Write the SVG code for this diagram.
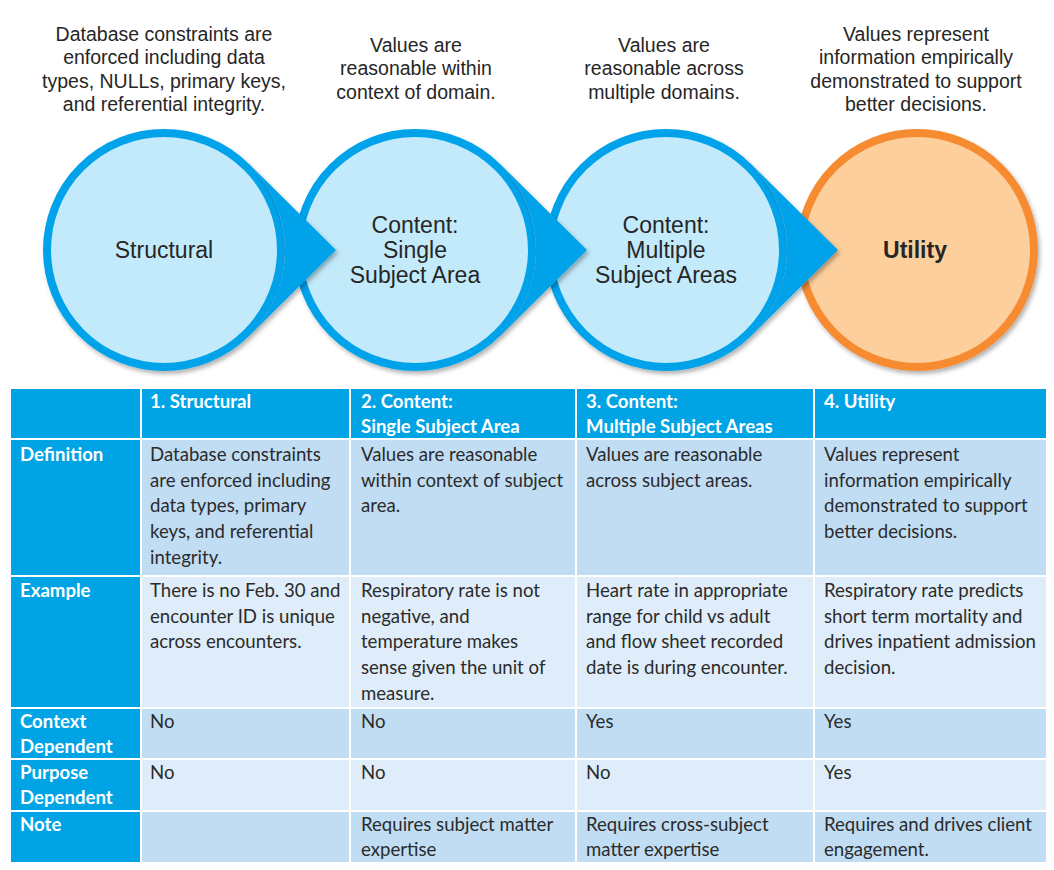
<svg xmlns="http://www.w3.org/2000/svg" width="1054" height="870" viewBox="0 0 1054 870">
<style>
.cap{font-family:"Liberation Sans",Arial,sans-serif;font-size:19.5px;fill:#262626;text-anchor:middle}
.ctext{font-family:"Liberation Sans",Arial,sans-serif;font-size:23px;fill:#262626;text-anchor:middle}
.cb{stroke:#00a2ea;stroke-width:8;fill:#c2eafb}
.co{stroke:#f68b30;stroke-width:8;fill:#fdcf9d}
.arr{fill:#00a2ea}
.hd{fill:#00a4e5}
.r1{fill:#c0ddf4}
.r2{fill:#deedf9}
.th{font-family:Lato,"Liberation Sans",sans-serif;font-size:18.6px;font-weight:bold;fill:#ffffff}
.td{font-family:Lato,"Liberation Sans",sans-serif;font-size:18.6px;fill:#2b2b2b}
</style>
<defs>
<filter id="sh" x="-20%" y="-20%" width="140%" height="140%">
<feDropShadow dx="2" dy="3" stdDeviation="2" flood-color="#000" flood-opacity="0.3"/>
</filter>
</defs>
<rect width="1054" height="870" fill="#ffffff"/>

<g id="captions">
<text class="cap" x="164" y="41">Database constraints are</text>
<text class="cap" x="164" y="64">enforced including data</text>
<text class="cap" x="164" y="87.5">types, NULLs, primary keys,</text>
<text class="cap" x="164" y="110.5">and referential integrity.</text>
<text class="cap" x="416" y="52">Values are</text>
<text class="cap" x="416" y="75">reasonable within</text>
<text class="cap" x="416" y="98.5">context of domain.</text>
<text class="cap" x="664" y="52">Values are</text>
<text class="cap" x="664" y="75">reasonable across</text>
<text class="cap" x="664" y="98.5">multiple domains.</text>
<text class="cap" x="916" y="41">Values represent</text>
<text class="cap" x="916" y="64">information empirically</text>
<text class="cap" x="916" y="87.5">demonstrated to support</text>
<text class="cap" x="916" y="110.5">better decisions.</text>
</g>

<g id="node-structural" filter="url(#sh)">
<circle class="cb" cx="164" cy="250" r="117"/>
</g>
<g id="node-content-single" filter="url(#sh)">
<circle class="cb" cx="415" cy="250" r="117"/>
</g>
<g id="node-content-multiple" filter="url(#sh)">
<circle class="cb" cx="666" cy="250" r="117"/>
</g>
<g id="node-utility" filter="url(#sh)">
<circle class="co" cx="917" cy="250" r="117"/>
</g>

<g id="connectors" filter="url(#sh)">
<path class="arr" d="M249.1 164 L336 250 L249.1 336 A121 121 0 0 0 249.1 164 Z"/>
<path class="arr" d="M500.1 164 L587 250 L500.1 336 A121 121 0 0 0 500.1 164 Z"/>
<path class="arr" d="M751.1 164 L838 250 L751.1 336 A121 121 0 0 0 751.1 164 Z"/>
</g>

<g id="node-labels">
<text class="ctext" x="164" y="258">Structural</text>
<text class="ctext" x="415" y="233">Content:</text>
<text class="ctext" x="415" y="258">Single</text>
<text class="ctext" x="415" y="283">Subject Area</text>
<text class="ctext" x="666" y="233">Content:</text>
<text class="ctext" x="666" y="258">Multiple</text>
<text class="ctext" x="666" y="283">Subject Areas</text>
<text class="ctext" x="915" y="258" font-weight="bold">Utility</text>
</g>

<g id="table">
<rect class="hd" x="11" y="389" width="129" height="49"/>
<rect class="hd" x="142" y="389" width="207" height="49"/>
<rect class="hd" x="351" y="389" width="224" height="49"/>
<rect class="hd" x="577" y="389" width="236" height="49"/>
<rect class="hd" x="815" y="389" width="231" height="49"/>

<rect class="hd" x="11" y="440" width="129" height="135"/>
<rect class="r1" x="142" y="440" width="207" height="135"/>
<rect class="r1" x="351" y="440" width="224" height="135"/>
<rect class="r1" x="577" y="440" width="236" height="135"/>
<rect class="r1" x="815" y="440" width="231" height="135"/>

<rect class="hd" x="11" y="577" width="129" height="130"/>
<rect class="r2" x="142" y="577" width="207" height="130"/>
<rect class="r2" x="351" y="577" width="224" height="130"/>
<rect class="r2" x="577" y="577" width="236" height="130"/>
<rect class="r2" x="815" y="577" width="231" height="130"/>

<rect class="hd" x="11" y="709" width="129" height="49"/>
<rect class="r1" x="142" y="709" width="207" height="49"/>
<rect class="r1" x="351" y="709" width="224" height="49"/>
<rect class="r1" x="577" y="709" width="236" height="49"/>
<rect class="r1" x="815" y="709" width="231" height="49"/>

<rect class="hd" x="11" y="760" width="129" height="50"/>
<rect class="r2" x="142" y="760" width="207" height="50"/>
<rect class="r2" x="351" y="760" width="224" height="50"/>
<rect class="r2" x="577" y="760" width="236" height="50"/>
<rect class="r2" x="815" y="760" width="231" height="50"/>

<rect class="hd" x="11" y="812" width="129" height="50"/>
<rect class="r1" x="142" y="812" width="207" height="50"/>
<rect class="r1" x="351" y="812" width="224" height="50"/>
<rect class="r1" x="577" y="812" width="236" height="50"/>
<rect class="r1" x="815" y="812" width="231" height="50"/>

<text class="th" x="150" y="408">1. Structural</text>
<text class="th" x="361" y="408">2. Content:</text>
<text class="th" x="361" y="433">Single Subject Area</text>
<text class="th" x="586" y="408">3. Content:</text>
<text class="th" x="586" y="433">Multiple Subject Areas</text>
<text class="th" x="824" y="408">4. Utility</text>

<text class="th" x="20" y="461">Definition</text>
<text class="th" x="20" y="597">Example</text>
<text class="th" x="20" y="728">Context</text>
<text class="th" x="20" y="753">Dependent</text>
<text class="th" x="20" y="779">Purpose</text>
<text class="th" x="20" y="804">Dependent</text>
<text class="th" x="20" y="831">Note</text>

<text class="td" x="150" y="461">Database constraints</text>
<text class="td" x="150" y="487">are enforced including</text>
<text class="td" x="150" y="512">data types, primary</text>
<text class="td" x="150" y="538">keys, and referential</text>
<text class="td" x="150" y="564">integrity.</text>
<text class="td" x="361" y="461">Values are reasonable</text>
<text class="td" x="361" y="487">within context of subject</text>
<text class="td" x="361" y="512">area.</text>
<text class="td" x="586" y="461">Values are reasonable</text>
<text class="td" x="586" y="487">across subject areas.</text>
<text class="td" x="824" y="461">Values represent</text>
<text class="td" x="824" y="487">information empirically</text>
<text class="td" x="824" y="512">demonstrated to support</text>
<text class="td" x="824" y="538">better decisions.</text>

<text class="td" x="150" y="597">There is no Feb. 30 and</text>
<text class="td" x="150" y="623">encounter ID is unique</text>
<text class="td" x="150" y="648">across encounters.</text>
<text class="td" x="361" y="597">Respiratory rate is not</text>
<text class="td" x="361" y="623">negative, and</text>
<text class="td" x="361" y="648">temperature makes</text>
<text class="td" x="361" y="674">sense given the unit of</text>
<text class="td" x="361" y="700">measure.</text>
<text class="td" x="586" y="597">Heart rate in appropriate</text>
<text class="td" x="586" y="623">range for child vs adult</text>
<text class="td" x="586" y="648">and flow sheet recorded</text>
<text class="td" x="586" y="674">date is during encounter.</text>
<text class="td" x="824" y="597">Respiratory rate predicts</text>
<text class="td" x="824" y="623">short term mortality and</text>
<text class="td" x="824" y="648">drives inpatient admission</text>
<text class="td" x="824" y="674">decision.</text>

<text class="td" x="150" y="728">No</text>
<text class="td" x="361" y="728">No</text>
<text class="td" x="586" y="728">Yes</text>
<text class="td" x="824" y="728">Yes</text>
<text class="td" x="150" y="779">No</text>
<text class="td" x="361" y="779">No</text>
<text class="td" x="586" y="779">No</text>
<text class="td" x="824" y="779">Yes</text>
<text class="td" x="361" y="831">Requires subject matter</text>
<text class="td" x="361" y="856">expertise</text>
<text class="td" x="586" y="831">Requires cross-subject</text>
<text class="td" x="586" y="856">matter expertise</text>
<text class="td" x="824" y="831">Requires and drives client</text>
<text class="td" x="824" y="856">engagement.</text>
</g>
</svg>
